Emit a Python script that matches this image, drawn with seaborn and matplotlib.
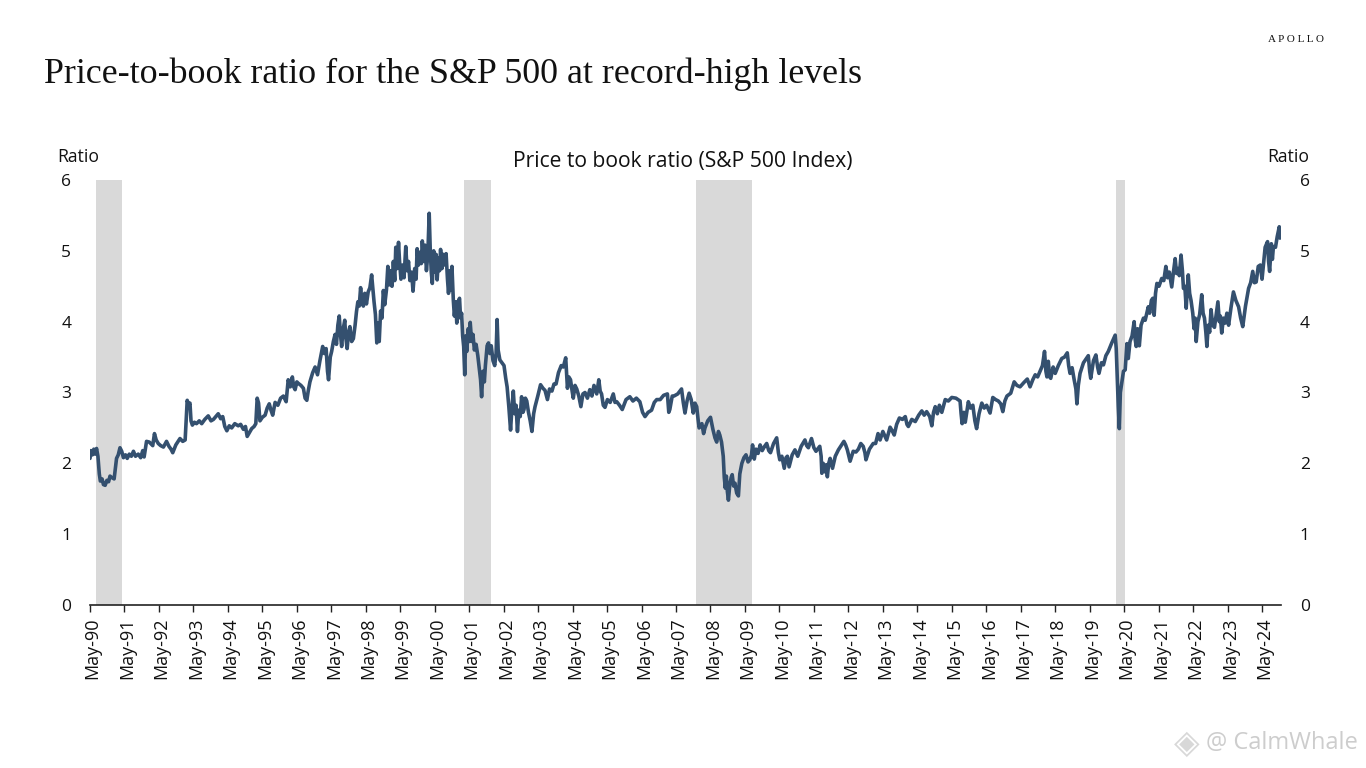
import numpy as np
import pandas as pd
import matplotlib
matplotlib.use("Agg")
import matplotlib.pyplot as plt
import matplotlib.transforms as mtrans
import seaborn as sns

years_a = [1990.33, 1990.36, 1990.40, 1990.44, 1990.48, 1990.52, 1990.56, 1990.60, 1990.63, 1990.68,
           1990.72, 1990.77, 1990.82, 1990.87, 1990.91, 1990.96, 1991.03, 1991.07, 1991.10, 1991.15,
           1991.20, 1991.25, 1991.30, 1991.36, 1991.41, 1991.47, 1991.53, 1991.59, 1991.65, 1991.73,
           1991.80, 1991.86, 1991.90, 1991.97, 1992.05, 1992.15, 1992.20, 1992.25, 1992.31, 1992.38,
           1992.46, 1992.55, 1992.62, 1992.68, 1992.73, 1992.82, 1992.94, 1993.02, 1993.09]
ratio_a = [2.07, 2.18, 2.12, 2.20, 2.13, 2.21, 2.10, 1.85, 1.75, 1.78,
           1.70, 1.69, 1.76, 1.74, 1.82, 1.80, 1.78, 1.95, 2.07, 2.12,
           2.22, 2.17, 2.08, 2.12, 2.07, 2.13, 2.10, 2.17, 2.10, 2.13,
           2.08, 2.18, 2.09, 2.31, 2.30, 2.25, 2.42, 2.33, 2.28, 2.25,
           2.23, 2.31, 2.24, 2.20, 2.15, 2.26, 2.35, 2.31, 2.33]

years_b = [1993.15, 1993.19, 1993.23, 1993.26, 1993.30, 1993.36, 1993.42, 1993.50, 1993.57, 1993.66,
           1993.76, 1993.84, 1993.91, 1994.05, 1994.12, 1994.18, 1994.24, 1994.30, 1994.37, 1994.44,
           1994.53, 1994.63, 1994.70, 1994.78, 1994.84, 1994.89, 1994.96, 1995.02, 1995.09, 1995.14,
           1995.18, 1995.22, 1995.26, 1995.33, 1995.41, 1995.47, 1995.53, 1995.58, 1995.63, 1995.70,
           1995.78, 1995.86, 1995.94, 1996.02, 1996.08, 1996.14, 1996.20, 1996.24, 1996.28, 1996.33,
           1996.37, 1996.45, 1996.52, 1996.57, 1996.62, 1996.66, 1996.71, 1996.79, 1996.86, 1996.93,
           1997.00]
ratio_b = [2.89, 2.82, 2.85, 2.60, 2.54, 2.58, 2.56, 2.60, 2.56, 2.62,
           2.67, 2.60, 2.62, 2.70, 2.63, 2.66, 2.52, 2.46, 2.53, 2.50,
           2.56, 2.53, 2.55, 2.48, 2.52, 2.38, 2.44, 2.49, 2.52, 2.56,
           2.92, 2.85, 2.60, 2.65, 2.68, 2.78, 2.84, 2.75, 2.68, 2.86,
           2.82, 2.92, 2.95, 2.87, 3.18, 3.08, 3.22, 3.08, 3.04, 3.15,
           3.13, 3.10, 3.06, 2.92, 2.89, 3.02, 3.15, 3.28, 3.36, 3.25,
           3.45]

years_c = [1997.08, 1997.13, 1997.18, 1997.22, 1997.25, 1997.30, 1997.34, 1997.39, 1997.44, 1997.48,
           1997.52, 1997.56, 1997.60, 1997.63, 1997.67, 1997.72, 1997.75, 1997.79, 1997.83, 1997.87,
           1997.92, 1997.97, 1998.02, 1998.06, 1998.10, 1998.14, 1998.18, 1998.22, 1998.26, 1998.30,
           1998.35, 1998.40, 1998.45, 1998.50, 1998.54, 1998.57, 1998.61, 1998.65, 1998.69, 1998.72,
           1998.76, 1998.80, 1998.84, 1998.88, 1998.93, 1998.97, 1999.01, 1999.05, 1999.09, 1999.13,
           1999.17, 1999.20, 1999.24, 1999.28, 1999.31, 1999.35, 1999.40, 1999.44, 1999.49, 1999.53,
           1999.57, 1999.61, 1999.66, 1999.70, 1999.75, 1999.79, 1999.82, 1999.86, 1999.90, 1999.94,
           1999.97, 2000.01, 2000.05, 2000.09, 2000.13, 2000.17, 2000.20, 2000.23, 2000.26, 2000.30,
           2000.34, 2000.37, 2000.40, 2000.44, 2000.47, 2000.50, 2000.54, 2000.58, 2000.62, 2000.66,
           2000.70, 2000.73, 2000.77, 2000.80, 2000.83, 2000.87, 2000.90, 2000.94, 2000.97, 2001.01,
           2001.05, 2001.08, 2001.11, 2001.14, 2001.17, 2001.20, 2001.23, 2001.26, 2001.30, 2001.33,
           2001.36, 2001.40, 2001.44, 2001.48, 2001.53, 2001.58, 2001.62, 2001.66, 2001.69, 2001.73,
           2001.77, 2001.80, 2001.85, 2001.89, 2001.93, 2001.97, 2002.02, 2002.07, 2002.11, 2002.14]
ratio_c = [3.65, 3.55, 3.62, 3.30, 3.18, 3.50, 3.58, 3.72, 3.82, 3.68,
           3.95, 4.08, 3.80, 3.65, 3.88, 4.02, 3.78, 3.62, 3.85, 3.93,
           3.72, 3.76, 3.95, 4.14, 4.28, 4.22, 4.48, 4.26, 4.22, 4.40,
           4.25, 4.42, 4.48, 4.66, 4.45, 4.28, 4.10, 3.70, 3.98, 3.72,
           4.15, 4.05, 4.44, 4.24, 4.45, 4.78, 4.52, 4.72, 4.50, 4.85,
           4.58, 5.05, 4.75, 5.12, 4.85, 4.60, 4.80, 4.62, 5.06, 4.72,
           4.85, 4.58, 4.70, 4.43, 4.75, 4.60, 5.03, 4.80, 4.98, 4.82,
           5.14, 4.85, 5.08, 4.72, 4.95, 5.53, 5.02, 4.70, 4.54, 5.00,
           4.70, 4.95, 4.59, 4.90, 4.72, 5.02, 4.75, 4.95, 4.80, 4.96,
           4.60, 4.40, 4.72, 4.45, 4.78, 4.30, 4.08, 4.28, 3.98, 4.28,
           4.33, 4.05, 4.12, 3.80, 3.65, 3.25, 3.80, 3.58, 3.90, 3.72,
           3.99, 3.72, 3.82, 3.60, 3.68, 3.52, 3.35, 3.18, 2.94, 3.30,
           3.15, 3.38, 3.66, 3.70, 3.55, 3.66, 3.45, 3.38, 3.55, 4.03]

years_d = [2002.17, 2002.22, 2002.28, 2002.34, 2002.39, 2002.43, 2002.48, 2002.53, 2002.57, 2002.61,
           2002.65, 2002.69, 2002.73, 2002.77, 2002.81, 2002.85, 2002.89, 2002.92, 2002.96, 2003.00,
           2003.05, 2003.10, 2003.15, 2003.20, 2003.24, 2003.32, 2003.40, 2003.47, 2003.53, 2003.60,
           2003.66, 2003.73, 2003.79, 2003.85, 2003.92, 2004.00, 2004.06, 2004.13, 2004.16, 2004.18,
           2004.22, 2004.27, 2004.31, 2004.35, 2004.40, 2004.45, 2004.51, 2004.57, 2004.63, 2004.69,
           2004.76, 2004.83, 2004.89, 2004.95, 2005.03, 2005.09, 2005.13, 2005.17, 2005.22, 2005.27,
           2005.34, 2005.42, 2005.51, 2005.56, 2005.61, 2005.69, 2005.77, 2005.88, 2005.99, 2006.08,
           2006.18, 2006.28, 2006.36, 2006.43, 2006.52, 2006.62, 2006.70, 2006.77, 2006.87, 2006.97,
           2007.08, 2007.12, 2007.15, 2007.22, 2007.27, 2007.38, 2007.49, 2007.54, 2007.59, 2007.65,
           2007.71, 2007.77, 2007.83, 2007.88, 2007.93, 2007.97, 2008.00, 2008.08, 2008.13, 2008.17,
           2008.25, 2008.33, 2008.40, 2008.46, 2008.51, 2008.56, 2008.60, 2008.65, 2008.70, 2008.73,
           2008.76, 2008.79, 2008.82, 2008.85, 2008.89, 2008.93, 2008.96, 2009.00, 2009.04, 2009.09,
           2009.14, 2009.18, 2009.24, 2009.30, 2009.36, 2009.42, 2009.47, 2009.52, 2009.55, 2009.60]
ratio_d = [3.60, 3.46, 3.42, 3.38, 3.20, 3.08, 2.80, 2.47, 2.78, 3.02,
           2.70, 2.82, 2.45, 2.75, 2.66, 2.94, 2.72, 2.76, 2.92, 2.88,
           2.72, 2.60, 2.45, 2.70, 2.80, 2.95, 3.11, 3.06, 3.03, 2.90,
           3.05, 3.02, 3.12, 3.12, 3.28, 3.38, 3.36, 3.49, 3.22, 3.06,
           3.22, 3.18, 3.04, 2.92, 3.10, 3.05, 2.95, 2.80, 2.98, 3.00,
           2.92, 3.04, 2.95, 3.10, 2.98, 3.18, 3.02, 2.98, 2.82, 2.79,
           2.90, 2.86, 2.98, 2.86, 2.87, 2.82, 2.76, 2.90, 2.94, 2.88,
           2.92, 2.87, 2.72, 2.66, 2.72, 2.75, 2.86, 2.90, 2.90, 2.96,
           2.98, 2.72, 2.76, 2.95, 2.95, 2.98, 3.05, 2.86, 2.71, 2.88,
           2.99, 2.90, 2.71, 2.85, 2.80, 2.62, 2.50, 2.56, 2.42, 2.50,
           2.60, 2.65, 2.48, 2.36, 2.30, 2.45, 2.40, 2.30, 2.10, 1.80,
           1.65, 1.82, 1.60, 1.48, 1.70, 1.80, 1.84, 1.68, 1.72, 1.58,
           1.54, 1.85, 2.00, 2.08, 2.12, 2.02, 2.05, 2.12, 2.26, 2.06]

years_e = [2009.65, 2009.71, 2009.77, 2009.83, 2009.90, 2009.96, 2010.02, 2010.07, 2010.16, 2010.25,
           2010.30, 2010.34, 2010.40, 2010.47, 2010.52, 2010.56, 2010.61, 2010.70, 2010.78, 2010.86,
           2010.96, 2011.07, 2011.12, 2011.17, 2011.26, 2011.33, 2011.39, 2011.50, 2011.54, 2011.56,
           2011.60, 2011.65, 2011.69, 2011.72, 2011.76, 2011.80, 2011.87, 2011.95, 2012.04, 2012.12,
           2012.20, 2012.25, 2012.30, 2012.38, 2012.47, 2012.55, 2012.62, 2012.69, 2012.76, 2012.81,
           2012.84, 2012.94, 2013.05, 2013.12, 2013.19]
ratio_e = [2.20, 2.14, 2.26, 2.18, 2.24, 2.28, 2.18, 2.15, 2.28, 2.36,
           2.15, 2.05, 2.10, 1.93, 2.08, 2.10, 1.95, 2.12, 2.19, 2.10,
           2.24, 2.33, 2.25, 2.22, 2.35, 2.22, 2.17, 2.24, 2.10, 1.86,
           2.00, 1.88, 1.98, 1.81, 2.00, 2.07, 1.93, 2.10, 2.19, 2.25,
           2.31, 2.26, 2.19, 2.03, 2.17, 2.16, 2.20, 2.28, 2.24, 2.15,
           2.05, 2.20, 2.28, 2.28, 2.42]

years_f = [2013.25, 2013.33, 2013.44, 2013.54, 2013.60, 2013.66, 2013.73, 2013.81, 2013.90, 2013.98,
           2014.03, 2014.07, 2014.17, 2014.27, 2014.37, 2014.46, 2014.53, 2014.60, 2014.69, 2014.75,
           2014.80, 2014.85, 2014.91, 2014.97, 2015.04, 2015.14, 2015.23, 2015.33, 2015.45, 2015.57,
           2015.60, 2015.63, 2015.68, 2015.72, 2015.81, 2015.87, 2015.94, 2016.00, 2016.05, 2016.12,
           2016.20, 2016.27, 2016.34, 2016.44, 2016.52, 2016.60, 2016.68, 2016.75, 2016.81, 2016.87,
           2016.93, 2017.04, 2017.14, 2017.22, 2017.31, 2017.42, 2017.52, 2017.60, 2017.68, 2017.75,
           2017.82, 2017.89, 2017.96, 2018.02, 2018.06, 2018.09, 2018.13, 2018.17, 2018.20, 2018.27,
           2018.33, 2018.42, 2018.52, 2018.60, 2018.68, 2018.72, 2018.76, 2018.82, 2018.88, 2018.93,
           2018.96, 2019.00, 2019.05, 2019.15, 2019.29, 2019.33, 2019.36, 2019.44, 2019.51, 2019.56,
           2019.60, 2019.67, 2019.73, 2019.80, 2019.87, 2019.97]
ratio_f = [2.33, 2.45, 2.33, 2.51, 2.46, 2.40, 2.55, 2.64, 2.62, 2.66,
           2.55, 2.52, 2.62, 2.59, 2.68, 2.74, 2.68, 2.73, 2.66, 2.53,
           2.72, 2.80, 2.70, 2.82, 2.72, 2.90, 2.88, 2.93, 2.92, 2.88,
           2.70, 2.56, 2.72, 2.58, 2.87, 2.78, 2.82, 2.60, 2.49, 2.70,
           2.85, 2.78, 2.82, 2.71, 2.93, 2.90, 2.88, 2.84, 2.73, 2.88,
           2.95, 2.99, 3.15, 3.10, 3.08, 3.14, 3.19, 3.08, 3.18, 3.25,
           3.22, 3.30, 3.38, 3.58, 3.30, 3.22, 3.44, 3.22, 3.20, 3.36,
           3.27, 3.38, 3.48, 3.50, 3.56, 3.38, 3.27, 3.35, 3.18, 3.05,
           2.84, 3.10, 3.27, 3.42, 3.52, 3.30, 3.20, 3.45, 3.53, 3.36,
           3.27, 3.42, 3.39, 3.52, 3.58, 3.70]

years_g = [2020.07, 2020.10, 2020.13, 2020.16, 2020.19, 2020.22, 2020.26, 2020.31, 2020.36, 2020.41,
           2020.45, 2020.50, 2020.56, 2020.62, 2020.65, 2020.68, 2020.72, 2020.77, 2020.82, 2020.89,
           2020.94, 2021.03, 2021.07, 2021.12, 2021.16, 2021.20, 2021.24, 2021.28, 2021.34, 2021.42,
           2021.48, 2021.54, 2021.59, 2021.64, 2021.71, 2021.76, 2021.81, 2021.85, 2021.89, 2021.93,
           2021.98, 2022.02, 2022.05, 2022.09, 2022.13, 2022.16, 2022.19, 2022.23, 2022.27, 2022.32,
           2022.36, 2022.39, 2022.42, 2022.47, 2022.52, 2022.58, 2022.62, 2022.66, 2022.70, 2022.73,
           2022.77, 2022.81, 2022.85, 2022.90, 2022.95, 2023.00, 2023.05, 2023.09, 2023.12, 2023.16,
           2023.21, 2023.26, 2023.31, 2023.36, 2023.43, 2023.50, 2023.57, 2023.65, 2023.71, 2023.77,
           2023.85, 2023.94, 2024.00, 2024.06, 2024.11, 2024.16, 2024.22, 2024.28, 2024.33, 2024.38,
           2024.42, 2024.49, 2024.52, 2024.55, 2024.60, 2024.63, 2024.66, 2024.72, 2024.77, 2024.83,
           2024.85, 2024.88]
ratio_g = [3.81, 3.62, 3.20, 2.80, 2.49, 3.00, 3.13, 3.30, 3.32, 3.69,
           3.48, 3.72, 3.80, 4.00, 3.75, 3.65, 3.90, 3.66, 3.95, 4.05,
           4.02, 4.21, 4.12, 4.30, 4.33, 4.09, 4.40, 4.54, 4.50, 4.61,
           4.58, 4.78, 4.62, 4.70, 4.49, 4.70, 4.89, 4.68, 4.75, 4.65,
           4.94, 4.72, 4.47, 4.50, 4.19, 4.45, 4.66, 4.40, 4.30, 4.12,
           3.90, 4.05, 3.72, 4.00, 4.10, 4.38, 4.12, 4.05, 3.85, 3.65,
           3.95, 3.85, 4.17, 3.95, 3.92, 4.10, 4.28, 4.00, 4.08, 3.84,
           4.05, 3.98, 4.12, 3.95, 4.20, 4.42, 4.30, 4.21, 4.05, 3.93,
           4.22, 4.47, 4.55, 4.71, 4.55, 4.56, 4.78, 4.80, 4.60, 4.85,
           5.05, 5.13, 4.85, 4.71, 5.10, 4.88, 5.06, 5.05, 5.20, 5.34,
           5.18, 5.26]

# recessions
rec_start = [1990.50, 2001.17, 2007.92, 2020.08]
rec_end = [1991.26, 2001.95, 2009.54, 2020.36]

tick_years = [1990.33 + i for i in range(35)]
tick_labels = [f"May-{(1990 + i) % 100:02d}" for i in range(35)]
y_ticks = [0, 1, 2, 3, 4, 5, 6]

sns.set_style("white")
plt.rcParams["font.family"] = ["Open Sans", "DejaVu Sans"]

df = pd.DataFrame({
    "year": years_a + years_b + years_c + years_d + years_e + years_f + years_g,
    "ratio": ratio_a + ratio_b + ratio_c + ratio_d + ratio_e + ratio_f + ratio_g,
})

fig = plt.figure(figsize=(13.66, 7.68), dpi=100)
ax = fig.add_axes([90 / 1366, 1 - 605 / 768, (1281 - 90) / 1366, (605 - 180) / 768])

for a, b in zip(rec_start, rec_end):
    ax.axvspan(a, b, color="#d9d9d9", lw=0, zorder=1)

sns.lineplot(data=df, x="year", y="ratio", estimator=None, ax=ax, color="#34506f",
             linewidth=2.6, zorder=3)

ax.set_xlim(1990.33, 2024.88)
ax.set_ylim(0, 6)
ax.set_xlabel("")
ax.set_ylabel("")
ax.set_xticks(tick_years)
ax.set_xticklabels(tick_labels, rotation=90, fontsize=13, color="#111111")
ax.set_yticks(y_ticks)
ax.tick_params(axis="x", length=5, width=1, color="#222222", pad=4, bottom=True)
ax.tick_params(axis="y", length=0, labelsize=12.5, pad=13.5, labelcolor="#111111")

# labels sit a little right of their ticks in the original
shift = mtrans.ScaledTranslation(2.5 / 100, 0, fig.dpi_scale_trans)
for lab in ax.get_xticklabels():
    lab.set_transform(lab.get_transform() + shift)

for s in ["top", "left", "right"]:
    ax.spines[s].set_visible(False)
ax.spines["bottom"].set_color("#222222")
ax.spines["bottom"].set_linewidth(1.2)

ax2 = ax.twinx()
ax2.set_ylim(0, 6)
ax2.set_yticks(y_ticks)
ax2.tick_params(axis="y", length=0, labelsize=12.5, pad=13.5, labelcolor="#111111")
for s in ax2.spines.values():
    s.set_visible(False)

fig.text(44 / 1366, 1 - 74 / 768, "Price-to-book ratio for the S&P 500 at record-high levels",
         family="Liberation Serif", fontsize=25.8, color="#111111", va="center")
fig.text(1296 / 1366, 1 - 39 / 768, "A P O L L O", family="Liberation Serif", fontsize=8,
         color="#111111", ha="center", va="center")
fig.text(683 / 1366, 1 - 161 / 768, "Price to book ratio (S&P 500 Index)", fontsize=15.2,
         color="#111111", ha="center", va="center")
fig.text(78 / 1366, 1 - 157 / 768, "Ratio", fontsize=12.7, color="#111111", ha="center", va="center")
fig.text(1288 / 1366, 1 - 157 / 768, "Ratio", fontsize=12.7, color="#111111", ha="center", va="center")
fig.text(1358 / 1366, 1 - 743 / 768, "@ CalmWhale", fontsize=17, color="#cdcdcd", ha="right", va="center")
fig.text(1187 / 1366, 1 - 743 / 768, "\u25c8", family="DejaVu Sans", fontsize=24, color="#d8d8d8",
         ha="center", va="center")

plt.savefig("out.png", dpi=100)
plt.close()
